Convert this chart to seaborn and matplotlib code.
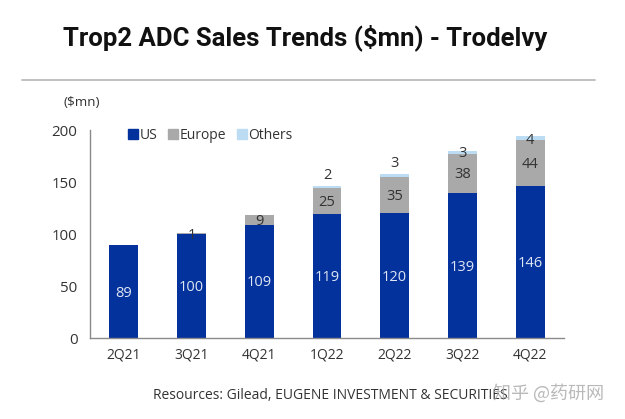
import numpy as np
import pandas as pd
import seaborn as sns
import matplotlib
matplotlib.use("Agg")
import matplotlib.pyplot as plt
from matplotlib.lines import Line2D
from matplotlib.patches import Patch

quarters = ["2Q21", "3Q21", "4Q21", "1Q22", "2Q22", "3Q22", "4Q22"]
us = [89, 100, 109, 119, 120, 139, 146]
europe = [0, 1, 9, 25, 35, 38, 44]
others = [0, 0, 0, 2, 3, 3, 4]
europe_labels = ["", "1", "9", "25", "35", "38", "44"]
others_labels = ["", "", "", "2", "3", "3", "4"]
yticks = [0, 50, 100, 150, 200]

C_US = "#04329c"
C_EU = "#a9a9a9"
C_OT = "#bcdcf4"
C_TXT = "#333333"

sns.set_theme(style="white")
plt.rcParams["font.family"] = ["Open Sans", "DejaVu Sans"]

W, H = 625, 419
fig = plt.figure(figsize=(W / 100, H / 100), dpi=100, facecolor="white")
ax = fig.add_axes([90 / W, 1 - 338 / H, (564 - 90) / W, (338 - 130) / H])

df = pd.DataFrame({"q": quarters, "us": us, "eu": europe, "ot": others})
us_a = np.array(us)
eu_a = np.array(europe)
ot_a = np.array(others)
bw = 0.425
sns.barplot(data=df, x="q", y="us", color=C_US, width=bw, saturation=1, linewidth=0, ax=ax)
sns.barplot(data=df, x="q", y="eu", bottom=us_a, color=C_EU, width=bw, saturation=1, linewidth=0, ax=ax)
sns.barplot(data=df, x="q", y="ot", bottom=us_a + eu_a, color=C_OT, width=bw, saturation=1, linewidth=0, ax=ax)

ax.set_xlim(-0.5, 6.5)
ax.set_ylim(0, 200)
ax.set_xlabel("")
ax.set_ylabel("")
ax.set_yticks(yticks)
for s in ["top", "right"]:
    ax.spines[s].set_visible(False)
for s in ["left", "bottom"]:
    ax.spines[s].set_color("#8a8a8a")
    ax.spines[s].set_linewidth(1.0)

ax.set_xticks(np.arange(len(quarters)))
ax.set_xticklabels(quarters, fontsize=10, color=C_TXT)
ax.tick_params(axis="x", length=0, pad=7)
ax.set_xticks(np.arange(len(quarters) + 1) - 0.5, minor=True)
ax.tick_params(axis="x", which="minor", length=4, width=1, color="#8a8a8a", direction="out")
ax.tick_params(axis="y", length=4, width=1, color="#8a8a8a", direction="out", pad=5, labelsize=10.8, labelcolor=C_TXT)

for i in range(len(quarters)):
    ax.text(i, us_a[i] / 2 - 1.5, str(us[i]), color="#dfe6f4", ha="center", va="center", fontsize=10.5)
    if europe_labels[i]:
        y = us_a[i] + eu_a[i] / 2 - 1
        if i == 1:
            y = us_a[i] - 1
        if i == 2:
            y = us_a[i] + 3
        ax.text(i, y, europe_labels[i], color=C_TXT, ha="center", va="center", fontsize=10.5)
    if others_labels[i]:
        top = us_a[i] + eu_a[i] + ot_a[i]
        offs = {3: 10, 4: 10, 5: -3, 6: -4}[i]
        ax.text(i, top + offs, others_labels[i], color=C_TXT, ha="center", va="center", fontsize=10.5)

handles = [Patch(color=C_US), Patch(color=C_EU), Patch(color=C_OT)]
ax.legend(handles, ["US", "Europe", "Others"], loc="upper left", bbox_to_anchor=(38 / 474, 1.01),
          ncol=3, frameon=False, fontsize=10, labelcolor=C_TXT, handlelength=0.75, handleheight=0.75,
          handletextpad=0.1, columnspacing=0.75, borderpad=0, borderaxespad=0)

fig.text(63 / W, 1 - 37.5 / H, "Trop2 ADC Sales Trends ($mn) - Trodelvy", fontsize=18.5, fontweight="bold",
         color="#111111", family="Roboto", ha="left", va="center")
fig.add_artist(Line2D([22 / W, 595 / W], [1 - 80 / H, 1 - 80 / H], color="#b5b5b5", lw=1.2))
fig.text(64 / W, 1 - 102 / H, "($mn)", fontsize=9.7, color=C_TXT, ha="left", va="center")
fig.text(153 / W, 1 - 395 / H, "Resources: Gilead, EUGENE INVESTMENT & SECURITIES", fontsize=10, color=C_TXT, ha="left", va="center")
fig.text(493 / W, 1 - 393 / H, "知乎 @药研网", fontsize=13, color="#a8a8a8", alpha=0.8,
         family=["Noto Sans CJK SC", "DejaVu Sans"], ha="left", va="center")

fig.savefig("out.png", dpi=100, facecolor="white")
